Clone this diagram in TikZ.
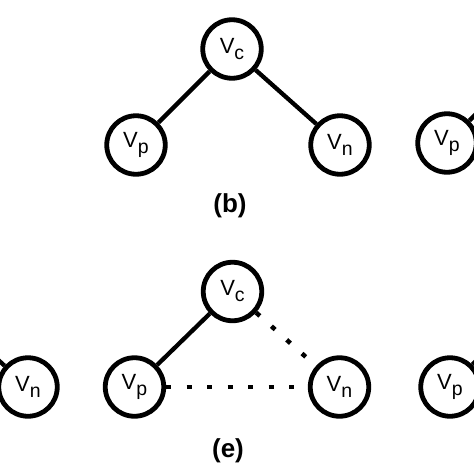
\documentclass[tikz,border=0pt]{standalone}
\usepackage{fontspec}
\setmainfont{Liberation Sans}
\newcommand{\vlab}[1]{V\raisebox{-6pt}{\fontsize{19.5}{19.5}\selectfont #1}}
\begin{document}
\begin{tikzpicture}[x=1pt,y=-1pt,
  vtx/.style={circle, draw, line width=4.8pt, minimum size=58.5pt, inner sep=0pt, font=\fontsize{22}{22}\selectfont},
  edge/.style={line width=4.3pt},
  dotedge/.style={line width=4.5pt, dash pattern=on 5pt off 15.5pt},
  lbl/.style={font=\fontsize{26}{26}\selectfont\bfseries}]
\useasboundingbox (0,0) rectangle (474,474);
% (b)
\node[vtx] (bc) at (232,49) {\vlab{c}};
\node[vtx] (bp) at (136,145) {\vlab{p}};
\node[vtx] (bn) at (340,145) {\vlab{n}};
\draw[edge] (bc) -- (bp);
\draw[edge] (bc) -- (bn);
\node[lbl] (lb) at (230,206) {(b)};
% right partial (c)
\node[vtx] (cp) at (447,143) {\vlab{p}};
\coordinate (co) at (490,100);
\draw[edge] (cp) -- (co);
% left partial (d)
\node[vtx] (dn) at (28,387) {\vlab{n}};
\coordinate (do) at (-15,348);
\draw[edge] (dn) -- (do);
% (e)
\node[vtx] (ec) at (232.5,291.5) {\vlab{c}};
\node[vtx] (ep) at (134.5,387) {\vlab{p}};
\node[vtx] (en) at (339.5,387) {\vlab{n}};
\draw[edge] (ec) -- (ep);
\draw[dotedge] (ec) -- (en);
\draw[dotedge] (ep) -- (en);
\node[lbl] (le) at (228,451) {(e)};
% right partial (f)
\node[vtx] (fp) at (450,387) {\vlab{p}};
\coordinate (fo) at (493,344);
\draw[edge] (fp) -- (fo);
\end{tikzpicture}
\end{document}
